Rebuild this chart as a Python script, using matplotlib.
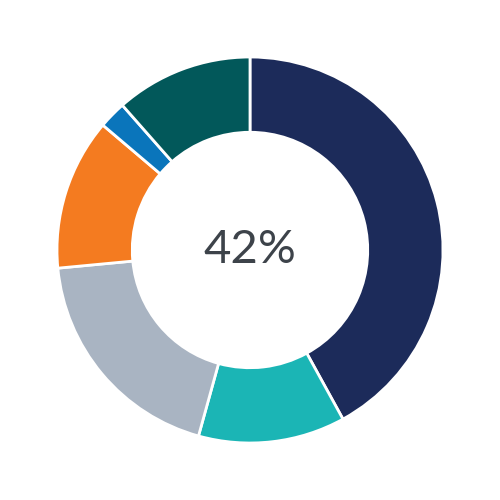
import matplotlib
matplotlib.use('Agg')
import matplotlib.pyplot as plt

# segment shares, clockwise from the top
labels=['navy','teal','gray','orange','blue','green']
values=[42,12.3,19.2,12.7,2.3,11.5]
colors=['#1c2b5a','#1bb5b5','#a9b4c2','#f47b20','#0a75bb','#02585a']
center_text='42%'

fig=plt.figure(figsize=(5,5),dpi=100)
ax=fig.add_axes([0,0,1,1])
ax.pie(values,colors=colors,startangle=90,counterclock=False,radius=1,
       wedgeprops=dict(width=0.39,edgecolor='white',linewidth=2))
ax.text(0,0.0,center_text,ha='center',va='center',fontsize=34,
        family='Lato',color='#3d434a')
lim=250/193.0
ax.set_xlim(-lim,lim);ax.set_ylim(-lim,lim)
ax.set_aspect('equal')
ax.axis('off')
fig.savefig('out.png',dpi=100,facecolor='white')
